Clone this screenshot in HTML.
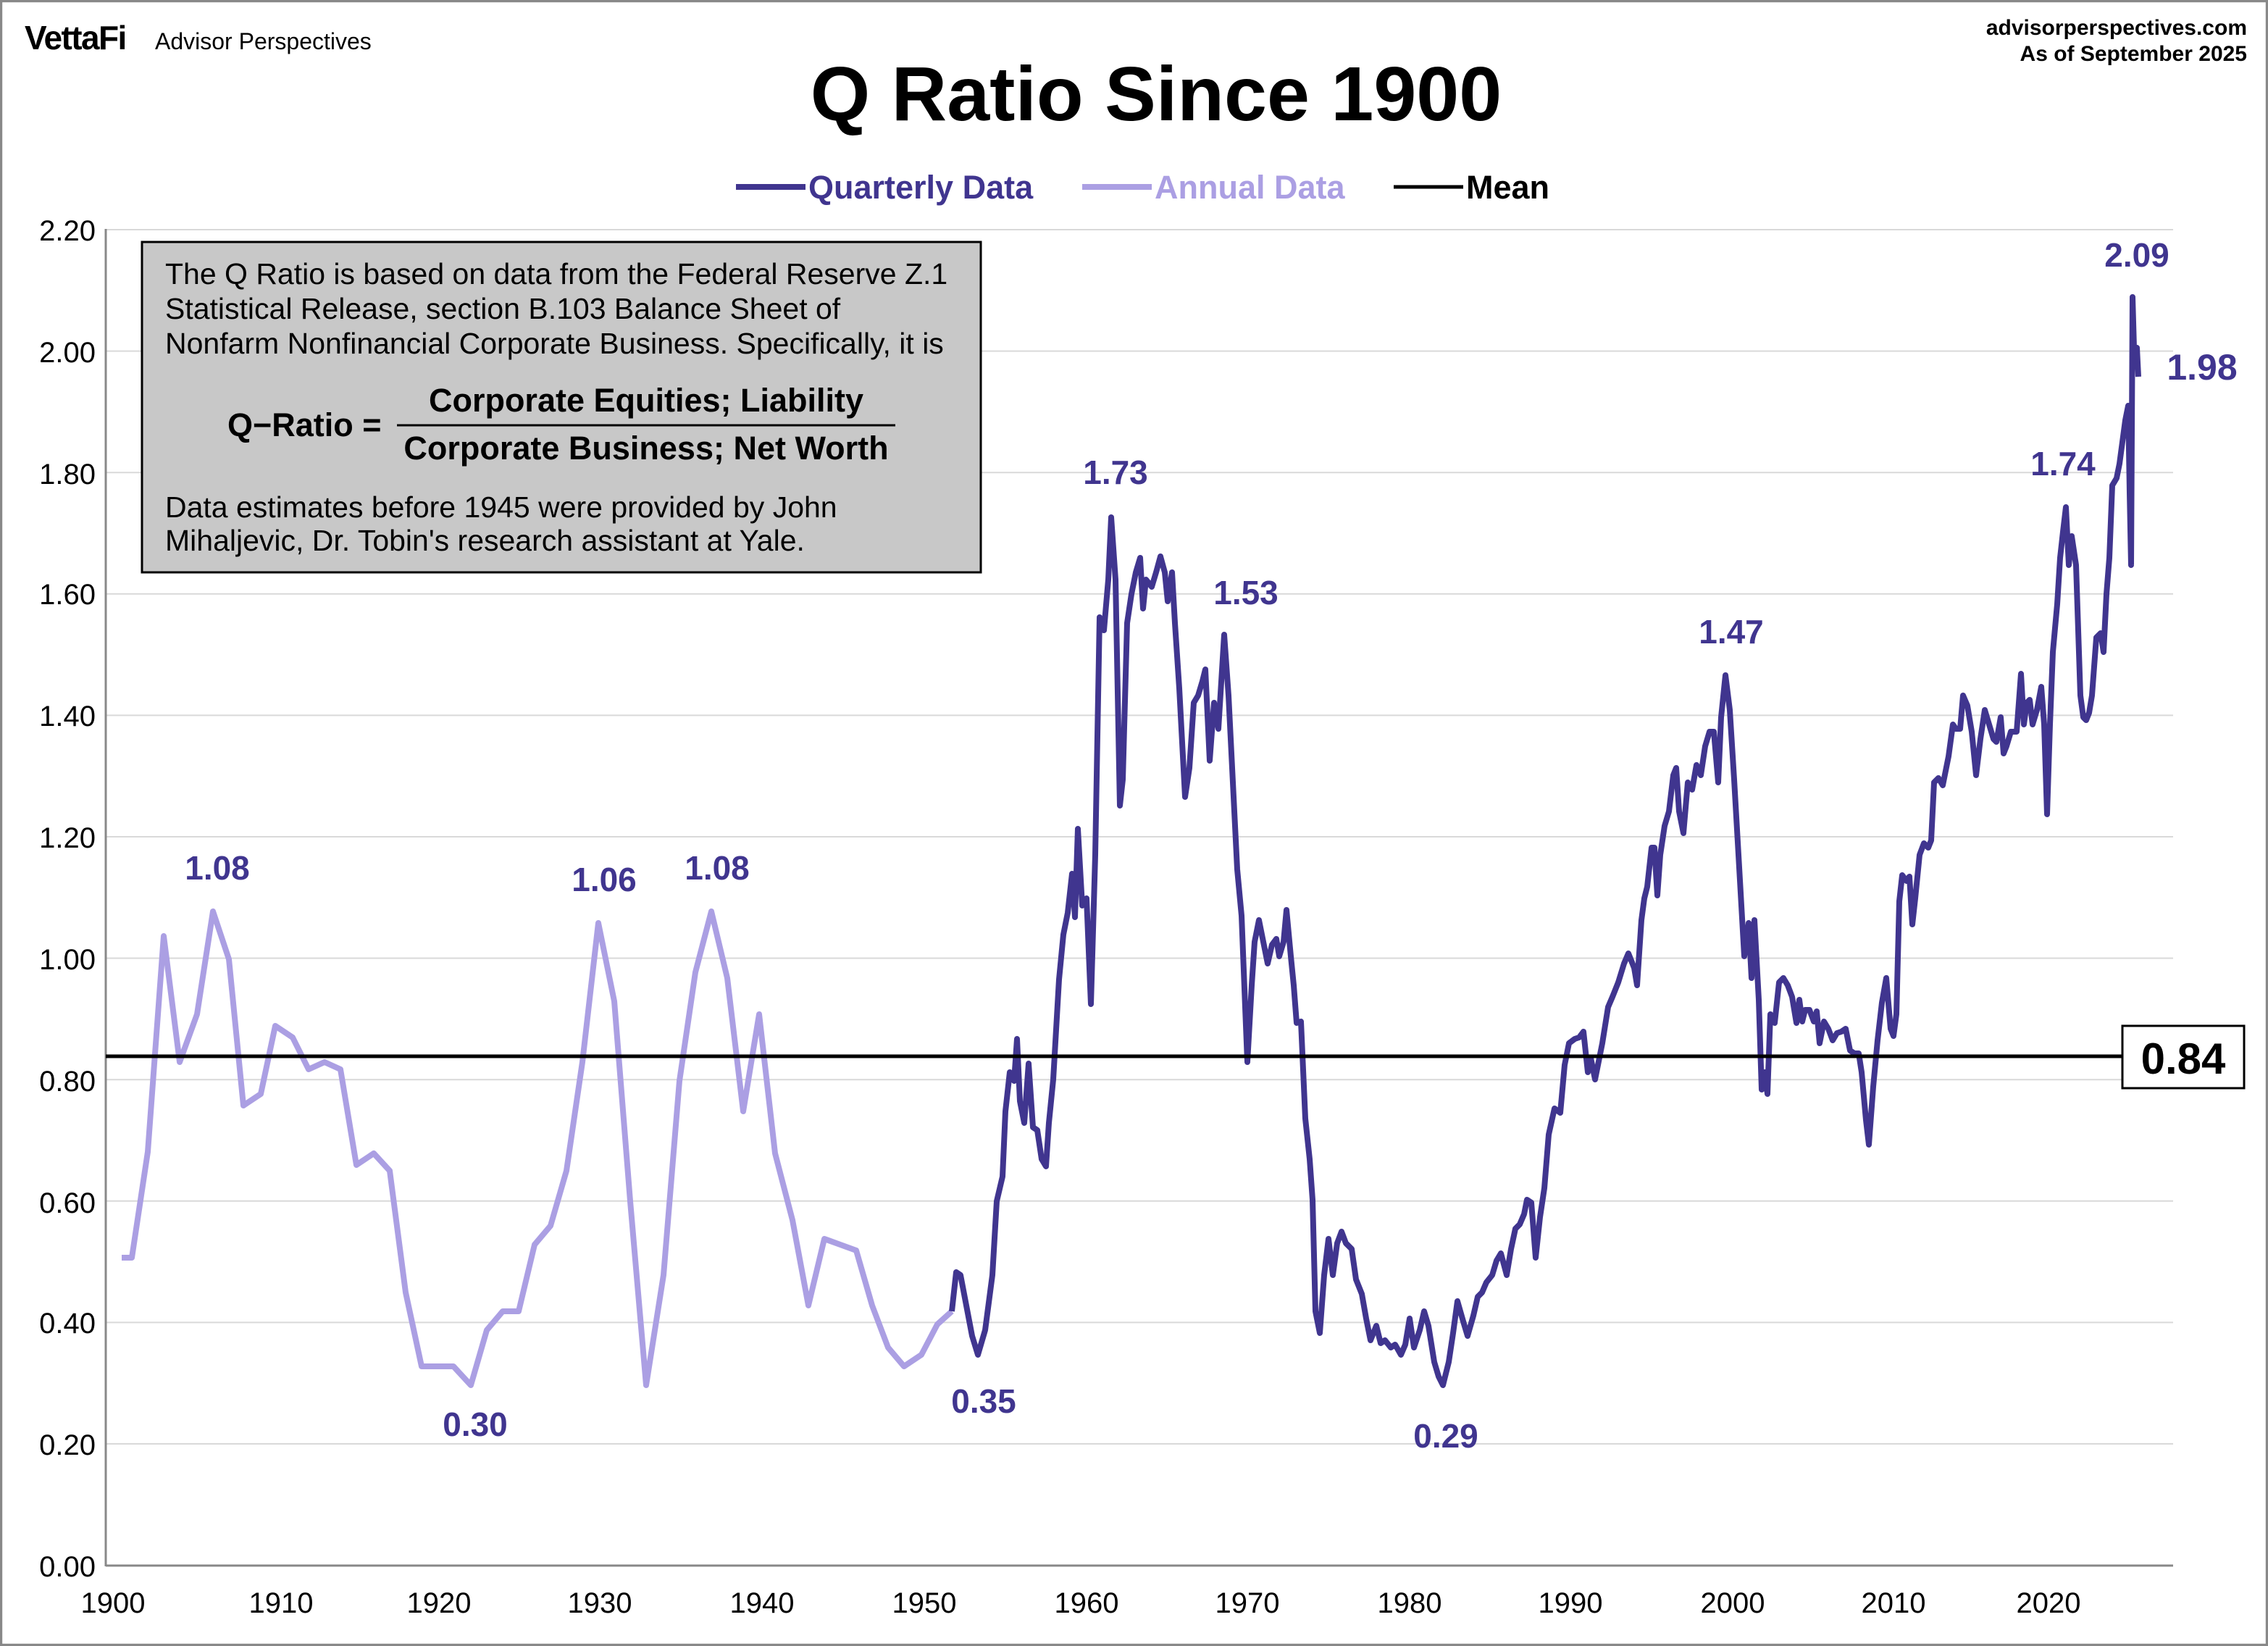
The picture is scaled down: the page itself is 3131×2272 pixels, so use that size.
<!DOCTYPE html>
<html><head><meta charset="utf-8"><style>
html,body{margin:0;padding:0;background:#fff}
svg{display:block}
text{font-family:"Liberation Sans",Arial,sans-serif}
</style></head><body>
<svg width="3131" height="2272" viewBox="0 0 1565.5 1136" xmlns="http://www.w3.org/2000/svg">
<rect x="0.8" y="0.8" width="1563.9" height="1134.4" fill="#fff" stroke="#888" stroke-width="1.6"/>
<text x="17" y="34" font-size="23" font-weight="bold" letter-spacing="-0.8">VettaFi</text>
<text x="107" y="34" font-size="16">Advisor Perspectives</text>
<text x="1551" y="24" font-size="15" font-weight="bold" text-anchor="end">advisorperspectives.com</text>
<text x="1551" y="42" font-size="15" font-weight="bold" text-anchor="end">As of September 2025</text>
<text x="798" y="83" font-size="53" font-weight="bold" text-anchor="middle">Q Ratio Since 1900</text>
<line x1="508" y1="129" x2="556" y2="129" stroke="#40358f" stroke-width="4"/>
<text x="558" y="137" font-size="22.5" font-weight="bold" fill="#40358f">Quarterly Data</text>
<line x1="747" y1="129" x2="795" y2="129" stroke="#ab9fe3" stroke-width="4"/>
<text x="797" y="137" font-size="22.5" font-weight="bold" fill="#ab9fe3">Annual Data</text>
<line x1="962" y1="129" x2="1010" y2="129" stroke="#000" stroke-width="2.5"/>
<text x="1012" y="137" font-size="22.5" font-weight="bold">Mean</text>
<g stroke="#d9d9d9" stroke-width="1">
<line x1="73" y1="158.5" x2="1500" y2="158.5"/><line x1="73" y1="242.3" x2="1500" y2="242.3"/>
<line x1="73" y1="326.1" x2="1500" y2="326.1"/><line x1="73" y1="409.9" x2="1500" y2="409.9"/>
<line x1="73" y1="493.7" x2="1500" y2="493.7"/><line x1="73" y1="577.5" x2="1500" y2="577.5"/>
<line x1="73" y1="661.3" x2="1500" y2="661.3"/><line x1="73" y1="745.1" x2="1500" y2="745.1"/>
<line x1="73" y1="828.9" x2="1500" y2="828.9"/><line x1="73" y1="912.7" x2="1500" y2="912.7"/>
<line x1="73" y1="996.5" x2="1500" y2="996.5"/>
</g>
<line x1="73" y1="158" x2="73" y2="1081" stroke="#888" stroke-width="1.5"/>
<line x1="73" y1="1080.5" x2="1500" y2="1080.5" stroke="#888" stroke-width="1.5"/>
<g font-size="20" text-anchor="end">
<text x="66" y="166">2.20</text><text x="66" y="250">2.00</text><text x="66" y="334">1.80</text>
<text x="66" y="417">1.60</text><text x="66" y="501">1.40</text><text x="66" y="585">1.20</text>
<text x="66" y="669">1.00</text><text x="66" y="753">0.80</text><text x="66" y="837">0.60</text>
<text x="66" y="920">0.40</text><text x="66" y="1004">0.20</text><text x="66" y="1088">0.00</text>
</g>
<g font-size="20" text-anchor="middle">
<text x="78" y="1113">1900</text><text x="194" y="1113">1910</text><text x="303" y="1113">1920</text>
<text x="414" y="1113">1930</text><text x="526" y="1113">1940</text><text x="638" y="1113">1950</text>
<text x="750" y="1113">1960</text><text x="861" y="1113">1970</text><text x="973" y="1113">1980</text>
<text x="1084" y="1113">1990</text><text x="1196" y="1113">2000</text><text x="1307" y="1113">2010</text>
<text x="1414" y="1113">2020</text>
</g>
<polyline fill="none" stroke="#ab9fe3" stroke-width="4" stroke-linejoin="round" points="84,868 91,868 102,795 113,646 124,733 136,700 147,629 158,662 168,763 180,755 190,708 202,716 213,738 224,733 235,738 246,804 258,796 269,808 280,892 291,943 302,943 313,943 325,956 336,918 347,905 358,905 369,859 380,846 391,808 402,733 413,637 424,691 435,829 446,956 458,880 469,746 480,671 491,629 502,675 513,767 524,700 535,796 547,842 558,901 569,855 580,859 591,863 602,901 613,930 624,943 636,935 647,914 657,905"/>
<polyline fill="none" stroke="#40358f" stroke-width="4" stroke-linejoin="round" points="657,905 660,878 663,880 667,901 671,922 675,935 680,918 685,880 688,829 692,812 694,767 697,740 700,746 702,717 704,760 707,775 710,734 713,778 716,780 719,800 722,805 724,775 727,745 731,676 734,645 737,630 740,603 742,633 744,572 747,625 750,620 753,693 756,590 759,426 762,435 765,400 767,357 770,400 773,556 775,538 778,430 781,410 784,395 787,385 789,420 791,400 795,405 798,395 801,384 804,395 806,415 809,395 811,430 814,475 818,550 821,530 824,485 827,480 830,470 832,462 835,525 838,485 841,503 845,438 848,480 851,540 854,600 857,632 861,733 864,680 866,650 869,635 872,650 875,665 878,652 881,648 883,660 886,650 888,628 891,660 893,680 895,706 898,705 901,772 904,800 906,828 908,905 911,920 914,880 917,855 920,880 923,858 926,850 929,858 933,862 936,883 940,893 943,910 946,925 950,915 953,927 956,925 960,930 963,928 967,935 970,928 973,910 976,930 980,918 983,905 986,915 990,940 993,950 996,956 1000,940 1003,920 1006,898 1010,912 1013,922 1017,908 1020,895 1023,892 1026,885 1030,880 1033,870 1036,865 1040,880 1043,862 1046,848 1049,845 1052,838 1054,828 1057,830 1060,868 1063,840 1066,820 1069,783 1073,765 1077,768 1080,735 1083,720 1087,717 1090,716 1093,712 1096,740 1098,730 1101,745 1103,735 1106,720 1110,695 1113,688 1117,678 1121,665 1124,658 1128,668 1130,680 1133,635 1135,620 1137,612 1140,585 1142,585 1144,618 1146,590 1149,570 1152,560 1155,535 1157,530 1159,560 1162,575 1165,540 1168,545 1171,528 1174,535 1177,515 1180,505 1183,505 1186,540 1188,495 1191,466 1194,490 1197,538 1200,590 1202,625 1204,660 1207,637 1209,675 1211,635 1214,690 1216,752 1218,740 1220,755 1222,700 1225,706 1228,678 1231,675 1234,680 1237,688 1240,706 1242,690 1244,705 1246,697 1249,697 1252,705 1254,698 1256,720 1259,705 1262,710 1265,718 1268,713 1271,712 1274,710 1277,725 1280,727 1283,727 1285,740 1288,773 1290,790 1293,750 1296,718 1299,692 1302,675 1305,710 1307,715 1309,700 1311,622 1313,604 1316,608 1318,605 1320,638 1322,620 1325,590 1328,582 1331,585 1333,580 1335,540 1338,537 1341,542 1345,522 1348,500 1350,503 1353,503 1355,480 1358,487 1361,505 1364,535 1367,510 1370,490 1373,500 1376,510 1378,512 1381,495 1383,520 1385,515 1388,505 1392,505 1395,465 1397,500 1399,485 1401,483 1403,500 1406,490 1409,474 1411,500 1413,562 1415,500 1417,450 1420,417 1422,385 1424,367 1426,350 1428,390 1430,370 1433,390 1436,480 1438,495 1440,497 1442,492 1444,480 1447,440 1450,437 1452,450 1454,410 1456,385 1458,335 1461,330 1463,320 1465,305 1467,290 1469,280 1470,340 1471,390 1472,205 1473,240 1474,250 1475,240 1476,260"/>
<line x1="73" y1="729" x2="1465" y2="729" stroke="#000" stroke-width="2.5"/>
<rect x="1465" y="708" width="84" height="43" fill="#fff" stroke="#000" stroke-width="1.5"/>
<text x="1507" y="741" font-size="30" font-weight="bold" text-anchor="middle">0.84</text>
<g font-size="23" font-weight="bold" fill="#40358f" text-anchor="middle">
<text x="150" y="607">1.08</text><text x="417" y="615">1.06</text><text x="495" y="607">1.08</text>
<text x="328" y="991">0.30</text><text x="679" y="975">0.35</text><text x="770" y="334">1.73</text>
<text x="860" y="417">1.53</text><text x="998" y="999">0.29</text><text x="1195" y="444">1.47</text>
<text x="1424" y="328">1.74</text><text x="1475" y="184">2.09</text>
<text x="1520" y="262" font-size="25">1.98</text>
</g>
<rect x="98" y="167" width="579" height="228" fill="#c8c8c8" stroke="#000" stroke-width="1.5"/>
<g font-size="20.5">
<text x="114" y="196">The Q Ratio is based on data from the Federal Reserve Z.1</text>
<text x="114" y="220">Statistical Release, section B.103 Balance Sheet of</text>
<text x="114" y="244">Nonfarm Nonfinancial Corporate Business. Specifically, it is</text>
<text x="114" y="357">Data estimates before 1945 were provided by John</text>
<text x="114" y="380">Mihaljevic, Dr. Tobin's research assistant at Yale.</text>
</g>
<g font-size="22.5" font-weight="bold">
<text x="157" y="301">Q−Ratio =</text>
<text x="446" y="284" text-anchor="middle">Corporate Equities; Liability</text>
<text x="446" y="317" text-anchor="middle">Corporate Business; Net Worth</text>
</g>
<line x1="274" y1="293.5" x2="618" y2="293.5" stroke="#000" stroke-width="1.5"/>
</svg>
</body></html>
